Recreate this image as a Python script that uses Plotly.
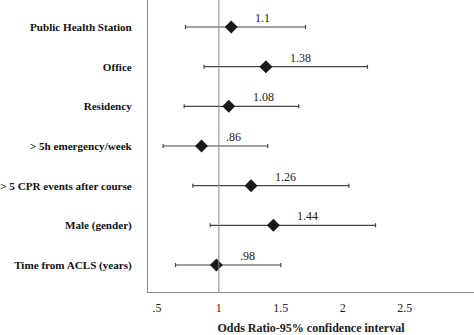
import plotly.graph_objects as go

categories = ["Public Health Station", "Office", "Residency", "> 5h emergency/week",
              "> 5 CPR events after course", "Male (gender)", "Time from ACLS (years)"]
odds_ratio = [1.1, 1.38, 1.08, 0.86, 1.26, 1.44, 0.98]
ci_low = [0.73, 0.88, 0.72, 0.55, 0.79, 0.93, 0.65]
ci_high = [1.70, 2.20, 1.645, 1.395, 2.05, 2.265, 1.50]
value_labels = ["1.1", "1.38", "1.08", ".86", "1.26", "1.44", ".98"]
tick_vals = [0.5, 1, 1.5, 2, 2.5]
tick_text = [".5", "1", "1.5", "2", "2.5"]

rows = list(range(1, len(categories) + 1))
serif = "Liberation Serif"

fig = go.Figure()
fig.add_shape(type="line", x0=1, x1=1, y0=0, y1=1, xref="x", yref="paper",
              line=dict(color="#888888", width=1))
fig.add_trace(go.Scatter(
    x=odds_ratio, y=rows, mode="markers",
    marker=dict(symbol="diamond", size=10, color="#1a1a1a"),
    error_x=dict(type="data", symmetric=False,
                 array=[h - o for h, o in zip(ci_high, odds_ratio)],
                 arrayminus=[o - l for o, l in zip(odds_ratio, ci_low)],
                 color="#444444", thickness=1.2, width=2),
    showlegend=False,
))
for o, r, t in zip(odds_ratio, rows, value_labels):
    fig.add_annotation(x=o, y=r, text=t, showarrow=False, xanchor="left", yanchor="bottom",
                       xshift=22, yshift=0,
                       font=dict(family=serif, size=12, color="#222222"))

fig.update_layout(
    width=474, height=335,
    margin=dict(l=148, r=0, t=0, b=43),
    plot_bgcolor="white", paper_bgcolor="white",
    font=dict(family=serif, color="#222222"),
    xaxis=dict(range=[0.428, 3.06], tickvals=tick_vals, ticktext=tick_text,
               showgrid=False, zeroline=False, showline=True, linecolor="#888888",
               linewidth=1, ticks="", automargin=False, ticklabelstandoff=5,
               tickfont=dict(family=serif, size=12, color="#222222"),
               title=dict(text="<b>Odds Ratio-95% confidence interval</b>", standoff=20,
                          font=dict(family=serif, size=12, color="#222222"))),
    yaxis=dict(range=[7.68, 0.32], tickvals=rows, ticktext=[f"<b>{c}</b>" for c in categories],
               showgrid=False, zeroline=False, showline=True, linecolor="#888888",
               linewidth=1, ticks="", ticklabelstandoff=13, automargin=False,
               tickfont=dict(family=serif, size=11.1, color="#111111")),
)
fig.write_html("out.html")
